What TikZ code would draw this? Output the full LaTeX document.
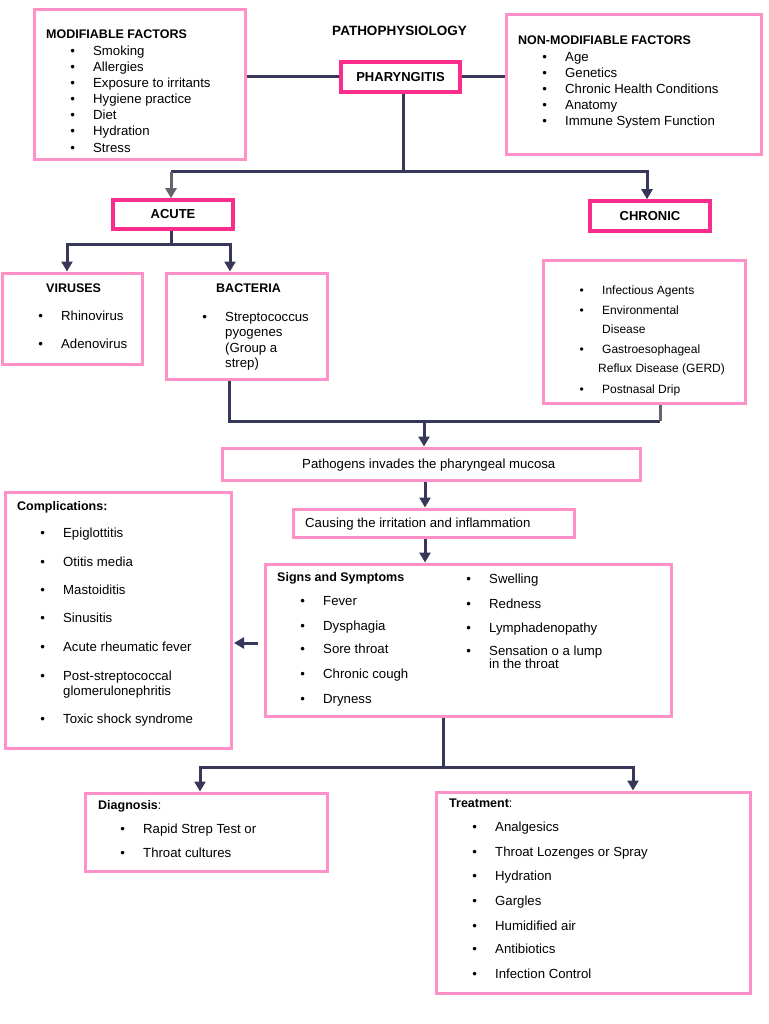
\documentclass[tikz,border=0pt]{standalone}
\usepackage{fontspec}
\setmainfont{Liberation Sans}
\usetikzlibrary{arrows.meta,calc}
\definecolor{lpink}{RGB}{255,145,200}
\definecolor{hpink}{RGB}{250,45,140}
\definecolor{navy}{RGB}{55,55,90}
\definecolor{lgray}{RGB}{100,100,110}
\newcommand{\bu}{\llap{\textbullet\hspace{18.3pt}}}
\begin{document}
\begin{tikzpicture}[x=1pt,y=-1pt,
 lbox/.style={draw=lpink,line width=3pt,inner sep=0pt,fill=white},
 hbox/.style={draw=hpink,line width=3.5pt,inner sep=0pt,fill=white,font=\fontsize{13}{15}\selectfont\bfseries},
 conn/.style={draw=navy,line width=3pt},
 arr/.style={conn,-{Triangle[length=10pt,width=11pt]}},
 txt/.style={anchor=base west,inner sep=0pt,font=\fontsize{13.2}{15}\selectfont},
 stxt/.style={anchor=base west,inner sep=0pt,font=\fontsize{12}{14}\selectfont},
 hd/.style={anchor=base west,inner sep=0pt,font=\fontsize{12.5}{15}\selectfont\bfseries}
]
\fill[white] (0,0) rectangle (768,1024);
\useasboundingbox (0,0) rectangle (768,1024);

% title
\node[inner sep=0pt,font=\fontsize{13.5}{15}\selectfont\bfseries] (title) at (399.5,31) {PATHOPHYSIOLOGY};

% boxes
\node[lbox,minimum width=211,minimum height=150] (mod) at (139.5,85) {};
\node[lbox,minimum width=255,minimum height=140] (nm) at (633.5,85) {};
\node[hbox,minimum width=119,minimum height=30] (ph) at (400.5,77) {PHARYNGITIS};
\node[hbox,minimum width=120,minimum height=29] (acute) at (173,214.5) {ACUTE};
\node[hbox,minimum width=120,minimum height=30] (chronic) at (650,216) {CHRONIC};
\node[lbox,minimum width=140,minimum height=91] (vir) at (72,318.5) {};
\node[lbox,minimum width=161,minimum height=106] (bac) at (246.5,326) {};
\node[lbox,minimum width=202,minimum height=143] (cl) at (644,331.5) {};
\node[lbox,minimum width=418,minimum height=32] (path) at (431,464) {};
\node[lbox,minimum width=281,minimum height=28] (cause) at (433.5,523) {};
\node[lbox,minimum width=406,minimum height=152] (sig) at (468,640) {};
\node[lbox,minimum width=226,minimum height=256] (comp) at (118,620) {};
\node[lbox,minimum width=242,minimum height=78] (diag) at (206,832) {};
\node[lbox,minimum width=314,minimum height=201] (treat) at (593,892.5) {};

% modifiable factors
\node[hd] (modh) at (46,39) {MODIFIABLE FACTORS};
\foreach \t [count=\i] in {Smoking,Allergies,Exposure to irritants,Hygiene practice,Diet,Hydration,Stress}
  \node[txt] (mod\i) at (93,{55.5+16.1*(\i-1)}) {\bu\t};

% non-modifiable factors
\node[hd] (nmh) at (518,45) {NON-MODIFIABLE FACTORS};
\foreach \t [count=\i] in {Age,Genetics,Chronic Health Conditions,Anatomy,Immune System Function}
  \node[txt] (nm\i) at (565,{61.5+16*(\i-1)}) {\bu\t};

% viruses
\node[hd] (virh) at (46,292) {VIRUSES};
\node[txt] (vir1) at (61,320.5) {\bu Rhinovirus};
\node[txt] (vir2) at (61,348.5) {\bu Adenovirus};

% bacteria
\node[hd] (bach) at (216,292) {BACTERIA};
\node[txt] (bac1) at (225,321.5) {\bu Streptococcus};
\node[txt] (bac2) at (225,336.5) {pyogenes};
\node[txt] (bac3) at (225,352.5) {(Group a};
\node[txt] (bac4) at (225,367.5) {strep)};

% chronic list
\node[stxt] (cl1) at (602,294.5) {\bu Infectious Agents};
\node[stxt] (cl2) at (602,314.5) {\bu Environmental};
\node[stxt] (cl3) at (602,333.5) {Disease};
\node[stxt] (cl4) at (602,353.5) {\bu Gastroesophageal};
\node[stxt] (cl5) at (598,372.5) {Reflux Disease (GERD)};
\node[stxt] (cl6) at (602,393.5) {\bu Postnasal Drip};

% pathogens / causing
\node[txt] (patht) at (302,468.5) {Pathogens invades the pharyngeal mucosa};
\node[txt] (causet) at (305,527.5) {Causing the irritation and inflammation};

% signs and symptoms
\node[hd] (sigh) at (277,581.5) {Signs and Symptoms};
\foreach \t/\y [count=\i] in {Fever/605.5,Dysphagia/630.5,Sore throat/653.5,Chronic cough/678.5,Dryness/703.5}
  \node[txt] (sl\i) at (323,\y) {\bu\t};
\foreach \t/\y [count=\i] in {Swelling/583.5,Redness/608.5,Lymphadenopathy/632.5,Sensation o a lump/655}
  \node[txt] (sr\i) at (489,\y) {\bu\t};
\node[txt] (sr5) at (489,668.5) {in the throat};

% complications
\node[hd] (comph) at (17,510.5) {Complications:};
\foreach \t/\y [count=\i] in {Epiglottitis/537.5,Otitis media/566.5,Mastoiditis/594.5,Sinusitis/622.5,Acute rheumatic fever/651.5,Post-streptococcal/680.5}
  \node[txt] (comp\i) at (63,\y) {\bu\t};
\node[txt] (comp7) at (63,695.5) {glomerulonephritis};
\node[txt] (comp8) at (63,723.5) {\bu Toxic shock syndrome};

% diagnosis
\node[hd] (diagh) at (98,809.5) {Diagnosis\mdseries:};
\node[txt] (diag1) at (143,833.5) {\bu Rapid Strep Test or};
\node[txt] (diag2) at (143,857.5) {\bu Throat cultures};

% treatment
\node[hd] (treath) at (449,807.5) {Treatment\mdseries:};
\foreach \t/\y [count=\i] in {Analgesics/831.5,Throat Lozenges or Spray/856.5,Hydration/880.5,Gargles/905.5,Humidified air/930.5,Antibiotics/953.5,Infection Control/978.5}
  \node[txt] (tr\i) at (495,\y) {\bu\t};

% connectors
\draw[conn] (ph.west) -- (ph.west -| mod.east);
\draw[conn] (ph.east) -- (ph.east -| nm.west);
\coordinate (j1) at (403,172);
\draw[conn] (j1 |- ph.south) -- (j1);
\draw[conn] (j1) -- ([xshift=-2pt]acute.north |- j1);
\draw[arr,draw=lgray] ([xshift=-2pt]acute.north |- j1) -- ([xshift=-2pt]acute.north);
\draw[arr] (j1) -| ([xshift=-3pt]chronic.north);

\coordinate (j2) at (171,244);
\draw[conn] (acute.south -| j2) -- (j2);
\draw[arr] (j2) -| ([xshift=-5pt]vir.north);
\draw[arr] (j2) -| ([xshift=-16.5pt]bac.north);

\coordinate (j3) at (424,421);
\coordinate (j3r) at (660,421);
\draw[conn] ([xshift=-17.5pt]bac.south) |- (j3r);
\draw[conn,draw=lgray] (j3r) -- (j3r |- cl.south);
\draw[arr] (j3) -- (path.north -| j3);

\coordinate (c1) at (425,500);
\draw[arr] (path.south -| c1) -- (cause.north -| c1);
\draw[arr] (cause.south -| c1) -- (sig.north -| c1);

\draw[arr] ([xshift=-5.5pt,yshift=-3pt]sig.west) -- ([xshift=1.5pt,yshift=-3pt]comp.east |- sig.west);

\coordinate (j4) at (443,767);
\draw[conn] (sig.south -| j4) -- (j4);
\draw[arr] (j4) -| ([xshift=-6pt]diag.north);
\draw[arr] (j4) -| ([xshift=40pt]treat.north);
\end{tikzpicture}
\end{document}
